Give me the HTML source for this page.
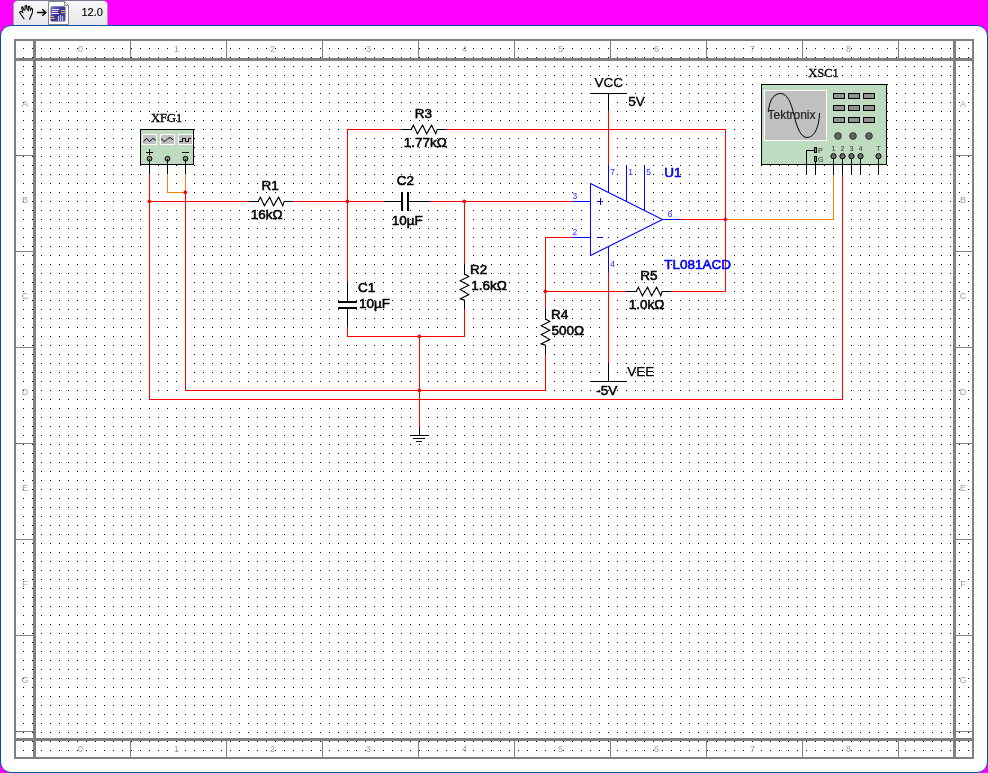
<!DOCTYPE html>
<html><head><meta charset="utf-8"><title>Multisim</title>
<style>
html,body{margin:0;padding:0;}
body{width:988px;height:773px;background:#ff00ff;position:relative;overflow:hidden;font-family:"Liberation Sans", sans-serif;}
#panel{position:absolute;left:0;top:25px;width:986px;height:746px;border:1px solid #00529e;border-radius:11px;background:#fff;}
#tab{position:absolute;left:13px;top:0;width:95px;height:25px;box-sizing:border-box;border:1px solid #9aa2a8;border-bottom:none;border-top-color:#6f7a90;border-radius:5px 5px 0 0;background:linear-gradient(#f7f7f8,#e6e7ea);}
svg{position:absolute;left:0;top:0;will-change:transform;}
</style></head><body>
<div id="panel"></div>
<div id="tab"></div>

<svg width="988" height="773" viewBox="0 0 988 773">
<defs><pattern id="dots" x="0" y="0" width="9" height="9" patternUnits="userSpaceOnUse"><rect x="5" y="3" width="1" height="1" fill="#000"/></pattern></defs>
<rect x="16" y="41" width="956" height="716" fill="url(#dots)" shape-rendering="crispEdges"/>
<g fill="#808080" shape-rendering="crispEdges">
<rect x="14" y="39" width="960" height="2"/>
<rect x="14" y="757" width="960" height="2"/>
<rect x="14" y="39" width="2" height="720"/>
<rect x="972" y="39" width="2" height="720"/>
<rect x="33" y="39" width="3" height="720"/>
<rect x="953" y="39" width="3" height="720"/>
<rect x="14" y="58" width="960" height="3"/>
<rect x="14" y="738" width="960" height="3"/>
<rect x="130" y="41" width="1" height="17"/>
<rect x="130" y="741" width="1" height="16"/>
<rect x="226" y="41" width="1" height="17"/>
<rect x="226" y="741" width="1" height="16"/>
<rect x="322" y="41" width="1" height="17"/>
<rect x="322" y="741" width="1" height="16"/>
<rect x="418" y="41" width="1" height="17"/>
<rect x="418" y="741" width="1" height="16"/>
<rect x="514" y="41" width="1" height="17"/>
<rect x="514" y="741" width="1" height="16"/>
<rect x="610" y="41" width="1" height="17"/>
<rect x="610" y="741" width="1" height="16"/>
<rect x="706" y="41" width="1" height="17"/>
<rect x="706" y="741" width="1" height="16"/>
<rect x="802" y="41" width="1" height="17"/>
<rect x="802" y="741" width="1" height="16"/>
<rect x="898" y="41" width="1" height="17"/>
<rect x="898" y="741" width="1" height="16"/>
<rect x="16" y="155" width="17" height="1"/>
<rect x="956" y="155" width="16" height="1"/>
<rect x="16" y="251" width="17" height="1"/>
<rect x="956" y="251" width="16" height="1"/>
<rect x="16" y="347" width="17" height="1"/>
<rect x="956" y="347" width="16" height="1"/>
<rect x="16" y="443" width="17" height="1"/>
<rect x="956" y="443" width="16" height="1"/>
<rect x="16" y="539" width="17" height="1"/>
<rect x="956" y="539" width="16" height="1"/>
<rect x="16" y="635" width="17" height="1"/>
<rect x="956" y="635" width="16" height="1"/>
<rect x="16" y="731" width="17" height="1"/>
<rect x="956" y="731" width="16" height="1"/>
</g>
<g fill="#a0a0a0" font-family='"Liberation Sans", sans-serif' font-size="9" text-anchor="middle">
<text x="80.5" y="52">0</text>
<text x="80.5" y="752">0</text>
<text x="176.5" y="52">1</text>
<text x="176.5" y="752">1</text>
<text x="272.5" y="52">2</text>
<text x="272.5" y="752">2</text>
<text x="368.5" y="52">3</text>
<text x="368.5" y="752">3</text>
<text x="464.5" y="52">4</text>
<text x="464.5" y="752">4</text>
<text x="560.5" y="52">5</text>
<text x="560.5" y="752">5</text>
<text x="656.5" y="52">6</text>
<text x="656.5" y="752">6</text>
<text x="752.5" y="52">7</text>
<text x="752.5" y="752">7</text>
<text x="848.5" y="52">8</text>
<text x="848.5" y="752">8</text>
<text x="25" y="107">A</text>
<text x="963" y="107">A</text>
<text x="25" y="203">B</text>
<text x="963" y="203">B</text>
<text x="25" y="299">C</text>
<text x="963" y="299">C</text>
<text x="25" y="395">D</text>
<text x="963" y="395">D</text>
<text x="25" y="491">E</text>
<text x="963" y="491">E</text>
<text x="25" y="587">F</text>
<text x="963" y="587">F</text>
<text x="25" y="683">G</text>
<text x="963" y="683">G</text>
</g>
<g shape-rendering="crispEdges">
<rect x="149" y="159" width="1" height="15" fill="#000000"/>
<rect x="149" y="174" width="1" height="226" fill="#ff0000"/>
<rect x="167" y="159" width="1" height="15" fill="#000000"/>
<rect x="167" y="174" width="1" height="19" fill="#ff8000"/>
<rect x="167" y="192" width="19" height="1" fill="#ff8000"/>
<rect x="185" y="159" width="1" height="15" fill="#000000"/>
<rect x="185" y="174" width="1" height="18" fill="#ff8000"/>
<rect x="185" y="192" width="1" height="199" fill="#ff0000"/>
<rect x="149" y="399" width="694" height="1" fill="#ff0000"/>
<rect x="842" y="174" width="1" height="226" fill="#ff0000"/>
<rect x="185" y="390" width="361" height="1" fill="#ff0000"/>
<rect x="149" y="201" width="100" height="1" fill="#ff0000"/>
<rect x="248" y="201" width="11" height="1" fill="#000000"/>
<rect x="284" y="201" width="10" height="1" fill="#000000"/>
<path d="M258.1,201.5 L260.4,197.2 L264.4,205.8 L269.6,197.2 L273.6,205.8 L278.6,197.2 L282.8,205.8 L284.1,201.5" fill="none" stroke="#000" stroke-width="1.1" shape-rendering="geometricPrecision"/>
<rect x="293" y="201" width="91" height="1" fill="#ff0000"/>
<rect x="384" y="201" width="17" height="1" fill="#000000"/>
<rect x="401" y="192" width="2" height="19" fill="#000"/>
<rect x="407" y="192" width="2" height="19" fill="#000"/>
<rect x="409" y="201" width="21" height="1" fill="#000000"/>
<rect x="430" y="201" width="143" height="1" fill="#ff0000"/>
<rect x="572" y="201" width="19" height="1" fill="#0000ff"/>
<rect x="347" y="129" width="1" height="154" fill="#ff0000"/>
<rect x="347" y="282" width="1" height="19" fill="#000000"/>
<rect x="338" y="301" width="19" height="2" fill="#000"/>
<rect x="338" y="307" width="19" height="2" fill="#000"/>
<rect x="347" y="309" width="1" height="19" fill="#000000"/>
<rect x="347" y="327" width="1" height="10" fill="#ff0000"/>
<rect x="347" y="336" width="118" height="1" fill="#ff0000"/>
<rect x="464" y="201" width="1" height="64" fill="#ff0000"/>
<rect x="464" y="264" width="1" height="11" fill="#000000"/>
<rect x="464" y="300" width="1" height="10" fill="#000000"/>
<path d="M464.5,274.1 L468.8,276.4 L460.2,280.7 L468.8,285.3 L460.2,289.6 L468.8,294.6 L460.2,298.8 L464.5,300.1" fill="none" stroke="#000" stroke-width="1.1" shape-rendering="geometricPrecision"/>
<rect x="464" y="309" width="1" height="28" fill="#ff0000"/>
<rect x="419" y="336" width="1" height="91" fill="#ff0000"/>
<rect x="419" y="427" width="1" height="9" fill="#000000"/>
<rect x="410" y="435" width="19" height="1" fill="#000000"/>
<rect x="413" y="438" width="12" height="1" fill="#000000"/>
<rect x="416" y="441" width="6" height="1" fill="#000000"/>
<rect x="347" y="129" width="55" height="1" fill="#ff0000"/>
<rect x="401" y="129" width="11" height="1" fill="#000000"/>
<rect x="437" y="129" width="10" height="1" fill="#000000"/>
<path d="M411.1,129.5 L413.4,125.2 L417.4,133.8 L422.6,125.2 L426.6,133.8 L431.6,125.2 L435.8,133.8 L437.1,129.5" fill="none" stroke="#000" stroke-width="1.1" shape-rendering="geometricPrecision"/>
<rect x="446" y="129" width="280" height="1" fill="#ff0000"/>
<rect x="725" y="129" width="1" height="163" fill="#ff0000"/>
<rect x="680" y="219" width="46" height="1" fill="#ff0000"/>
<rect x="725" y="219" width="109" height="1" fill="#ff8000"/>
<rect x="833" y="174" width="1" height="46" fill="#ff8000"/>
<rect x="662" y="219" width="19" height="1" fill="#0000ff"/>
<rect x="545" y="291" width="82" height="1" fill="#ff0000"/>
<rect x="626" y="291" width="11" height="1" fill="#000000"/>
<rect x="662" y="291" width="10" height="1" fill="#000000"/>
<path d="M636.1,291.5 L638.4,287.2 L642.4,295.8 L647.6,287.2 L651.6,295.8 L656.6,287.2 L660.8,295.8 L662.1,291.5" fill="none" stroke="#000" stroke-width="1.1" shape-rendering="geometricPrecision"/>
<rect x="671" y="291" width="55" height="1" fill="#ff0000"/>
<rect x="545" y="237" width="28" height="1" fill="#ff0000"/>
<rect x="572" y="237" width="19" height="1" fill="#0000ff"/>
<rect x="545" y="237" width="1" height="73" fill="#ff0000"/>
<rect x="545" y="309" width="1" height="11" fill="#000000"/>
<rect x="545" y="345" width="1" height="10" fill="#000000"/>
<path d="M545.5,319.1 L549.8,321.4 L541.2,325.7 L549.8,330.3 L541.2,334.6 L549.8,339.6 L541.2,343.8 L545.5,345.1" fill="none" stroke="#000" stroke-width="1.1" shape-rendering="geometricPrecision"/>
<rect x="545" y="354" width="1" height="37" fill="#ff0000"/>
<rect x="590" y="93" width="37" height="1" fill="#000000"/>
<rect x="608" y="93" width="1" height="18" fill="#000000"/>
<rect x="608" y="111" width="1" height="55" fill="#ff0000"/>
<rect x="608" y="165" width="1" height="27" fill="#0000ff"/>
<rect x="626" y="165" width="1" height="36" fill="#0000ff"/>
<rect x="644" y="165" width="1" height="45" fill="#0000ff"/>
<rect x="608" y="247" width="1" height="27" fill="#0000ff"/>
<rect x="608" y="273" width="1" height="91" fill="#ff0000"/>
<rect x="608" y="363" width="1" height="19" fill="#000000"/>
<rect x="590" y="381" width="37" height="1" fill="#000000"/>
<rect x="590" y="183" width="1" height="73" fill="#0000ff"/>
</g>
<path d="M590.5,183.5 L662.5,219.5 L590.5,255.5" fill="none" stroke="#0000ff" stroke-width="1.1"/>
<g fill="#0000ff" shape-rendering="crispEdges"><rect x="597" y="201" width="6" height="1"/><rect x="600" y="198" width="1" height="7"/><rect x="597" y="237" width="6" height="1"/></g>
<circle cx="149.3" cy="201.3" r="1.85" fill="#ff0000" shape-rendering="geometricPrecision"/>
<circle cx="185.3" cy="192.3" r="1.85" fill="#ff0000" shape-rendering="geometricPrecision"/>
<circle cx="347.3" cy="201.3" r="1.85" fill="#ff0000" shape-rendering="geometricPrecision"/>
<circle cx="464.3" cy="201.3" r="1.85" fill="#ff0000" shape-rendering="geometricPrecision"/>
<circle cx="419.3" cy="336.3" r="1.85" fill="#ff0000" shape-rendering="geometricPrecision"/>
<circle cx="419.3" cy="390.3" r="1.85" fill="#ff0000" shape-rendering="geometricPrecision"/>
<circle cx="545.3" cy="291.3" r="1.85" fill="#ff0000" shape-rendering="geometricPrecision"/>
<circle cx="725.3" cy="219.3" r="1.85" fill="#ff0000" shape-rendering="geometricPrecision"/>
<text x="270.1" y="190" font-family='"Liberation Sans", sans-serif' font-size="13.5" font-weight="normal" fill="#000" stroke="#000" stroke-width="0.55" text-anchor="middle" >R1</text>
<text x="266.7" y="218.6" font-family='"Liberation Sans", sans-serif' font-size="13.5" font-weight="normal" fill="#000" stroke="#000" stroke-width="0.55" text-anchor="middle" >16kΩ</text>
<text x="423.4" y="118" font-family='"Liberation Sans", sans-serif' font-size="13.5" font-weight="normal" fill="#000" stroke="#000" stroke-width="0.55" text-anchor="middle" >R3</text>
<text x="425.2" y="147" font-family='"Liberation Sans", sans-serif' font-size="13.5" font-weight="normal" fill="#000" stroke="#000" stroke-width="0.55" text-anchor="middle" >1.77kΩ</text>
<text x="405.5" y="185" font-family='"Liberation Sans", sans-serif' font-size="13.5" font-weight="normal" fill="#000" stroke="#000" stroke-width="0.55" text-anchor="middle" >C2</text>
<text x="407.2" y="225" font-family='"Liberation Sans", sans-serif' font-size="13.5" font-weight="normal" fill="#000" stroke="#000" stroke-width="0.55" text-anchor="middle" >10µF</text>
<text x="358" y="292" font-family='"Liberation Sans", sans-serif' font-size="13.5" font-weight="normal" fill="#000" stroke="#000" stroke-width="0.55" text-anchor="start" >C1</text>
<text x="359" y="308" font-family='"Liberation Sans", sans-serif' font-size="13.5" font-weight="normal" fill="#000" stroke="#000" stroke-width="0.55" text-anchor="start" >10µF</text>
<text x="470" y="273.5" font-family='"Liberation Sans", sans-serif' font-size="13.5" font-weight="normal" fill="#000" stroke="#000" stroke-width="0.55" text-anchor="start" >R2</text>
<text x="471.3" y="290" font-family='"Liberation Sans", sans-serif' font-size="13.5" font-weight="normal" fill="#000" stroke="#000" stroke-width="0.55" text-anchor="start" >1.6kΩ</text>
<text x="551" y="318.5" font-family='"Liberation Sans", sans-serif' font-size="13.5" font-weight="normal" fill="#000" stroke="#000" stroke-width="0.55" text-anchor="start" >R4</text>
<text x="551.5" y="335" font-family='"Liberation Sans", sans-serif' font-size="13.5" font-weight="normal" fill="#000" stroke="#000" stroke-width="0.55" text-anchor="start" >500Ω</text>
<text x="648.9" y="280" font-family='"Liberation Sans", sans-serif' font-size="13.5" font-weight="normal" fill="#000" stroke="#000" stroke-width="0.55" text-anchor="middle" >R5</text>
<text x="646.5" y="308.5" font-family='"Liberation Sans", sans-serif' font-size="13.5" font-weight="normal" fill="#000" stroke="#000" stroke-width="0.55" text-anchor="middle" >1.0kΩ</text>
<text x="594.5" y="86.5" font-family='"Liberation Sans", sans-serif' font-size="13.5" font-weight="normal" fill="#000" stroke="#000" stroke-width="0.25" text-anchor="start" >VCC</text>
<text x="628.3" y="105.8" font-family='"Liberation Sans", sans-serif' font-size="13.5" font-weight="normal" fill="#000" stroke="#000" stroke-width="0.35" text-anchor="start" >5V</text>
<text x="627.3" y="376" font-family='"Liberation Sans", sans-serif' font-size="13.5" font-weight="normal" fill="#000" stroke="#000" stroke-width="0.25" text-anchor="start" >VEE</text>
<text x="596.3" y="395" font-family='"Liberation Sans", sans-serif' font-size="13.5" font-weight="normal" fill="#000" stroke="#000" stroke-width="0.5" text-anchor="start" >-5V</text>
<text x="664.3" y="176.6" font-family='"Liberation Sans", sans-serif' font-size="13.5" font-weight="normal" fill="#0000ff" stroke="#0000ff" stroke-width="0.6" text-anchor="start" >U1</text>
<text x="664.2" y="268.6" font-family='"Liberation Sans", sans-serif' font-size="13.5" font-weight="normal" fill="#0000ff" stroke="#0000ff" stroke-width="0.6" text-anchor="start" >TL081ACD</text>
<text x="166.6" y="122" font-family='"Liberation Serif", serif' font-size="12.5" font-weight="normal" fill="#000" stroke="#000" stroke-width="0.3" text-anchor="middle" >XFG1</text>
<text x="823.5" y="77" font-family='"Liberation Serif", serif' font-size="12.5" font-weight="normal" fill="#000" stroke="#000" stroke-width="0.3" text-anchor="middle" >XSC1</text>
<text x="574.8" y="199" font-family='"Liberation Sans", sans-serif' font-size="8.5" font-weight="normal" fill="#2828ff"  text-anchor="middle" >3</text>
<text x="574.8" y="235" font-family='"Liberation Sans", sans-serif' font-size="8.5" font-weight="normal" fill="#2828ff"  text-anchor="middle" >2</text>
<text x="612.5" y="175" font-family='"Liberation Sans", sans-serif' font-size="8.5" font-weight="normal" fill="#2828ff"  text-anchor="middle" >7</text>
<text x="630.5" y="175" font-family='"Liberation Sans", sans-serif' font-size="8.5" font-weight="normal" fill="#2828ff"  text-anchor="middle" >1</text>
<text x="648.5" y="175" font-family='"Liberation Sans", sans-serif' font-size="8.5" font-weight="normal" fill="#2828ff"  text-anchor="middle" >5</text>
<text x="670" y="217" font-family='"Liberation Sans", sans-serif' font-size="8.5" font-weight="normal" fill="#2828ff"  text-anchor="middle" >6</text>
<text x="612.5" y="267" font-family='"Liberation Sans", sans-serif' font-size="8.5" font-weight="normal" fill="#2828ff"  text-anchor="middle" >4</text>
<g shape-rendering="crispEdges">
<rect x="140" y="129" width="54" height="36" fill="#000"/>
<rect x="141" y="130" width="52" height="34" fill="#c0dcc0"/>
<rect x="142" y="134" width="15" height="11" fill="#fff"/>
<rect x="143" y="135" width="13" height="9" fill="#c0c0c0"/>
<rect x="160" y="134" width="15" height="11" fill="#fff"/>
<rect x="161" y="135" width="13" height="9" fill="#c0c0c0"/>
<rect x="178" y="134" width="15" height="11" fill="#fff"/>
<rect x="179" y="135" width="13" height="9" fill="#c0c0c0"/>
<rect x="146" y="152" width="7" height="1.3" fill="#000"/><rect x="149" y="149" width="1.3" height="6" fill="#000"/>
<rect x="182" y="152" width="7" height="1.3" fill="#000"/>
</g>
<g fill="none" stroke="#000" stroke-width="1" shape-rendering="geometricPrecision">
<path d="M143.5,141.7 L146.6,138.3 L149.6,141.7 L152.8,138.3 L155.8,140.3"/>
<path d="M161.3,138.4 Q163.5,142.8 166,140.5 L168.2,138.3 Q170,136.2 173.2,140"/>
<path d="M179.3,141.6 H182.5 V138.4 H185.5 V141.6 H188.5 V138.4 H191"/>
</g>
<circle cx="149.5" cy="158.7" r="2.4" fill="#909090" stroke="#000" stroke-width="1"/>
<rect x="149" y="159" width="1" height="6" fill="#000000"/>
<circle cx="167.5" cy="158.7" r="2.4" fill="#909090" stroke="#000" stroke-width="1"/>
<rect x="167" y="159" width="1" height="6" fill="#000000"/>
<circle cx="185.5" cy="158.7" r="2.4" fill="#909090" stroke="#000" stroke-width="1"/>
<rect x="185" y="159" width="1" height="6" fill="#000000"/>
<g shape-rendering="crispEdges">
<rect x="761" y="84" width="126" height="81" fill="#000"/>
<rect x="762" y="85" width="124" height="79" fill="#c0dcc0"/>
<rect x="764" y="90" width="63" height="51" fill="#fff"/>
<rect x="765" y="91" width="61" height="49" fill="#c0c0c0"/>
<rect x="833" y="93" width="12" height="6" fill="#000"/>
<rect x="834" y="94" width="10" height="4" fill="#909090"/>
<rect x="848" y="93" width="12" height="6" fill="#000"/>
<rect x="849" y="94" width="10" height="4" fill="#909090"/>
<rect x="863" y="93" width="12" height="6" fill="#000"/>
<rect x="864" y="94" width="10" height="4" fill="#909090"/>
<rect x="833" y="105" width="12" height="6" fill="#000"/>
<rect x="834" y="106" width="10" height="4" fill="#909090"/>
<rect x="848" y="105" width="12" height="6" fill="#000"/>
<rect x="849" y="106" width="10" height="4" fill="#909090"/>
<rect x="863" y="105" width="12" height="6" fill="#000"/>
<rect x="864" y="106" width="10" height="4" fill="#909090"/>
<rect x="833" y="117" width="12" height="6" fill="#000"/>
<rect x="834" y="118" width="10" height="4" fill="#909090"/>
<rect x="848" y="117" width="12" height="6" fill="#000"/>
<rect x="849" y="118" width="10" height="4" fill="#909090"/>
<rect x="863" y="117" width="12" height="6" fill="#000"/>
<rect x="864" y="118" width="10" height="4" fill="#909090"/>
<rect x="814" y="147" width="3" height="6" fill="#000"/><rect x="815" y="148" width="1" height="4" fill="#808080"/>
<rect x="814" y="156" width="3" height="6" fill="#000"/><rect x="815" y="157" width="1" height="4" fill="#808080"/>
<rect x="806" y="150" width="8" height="1" fill="#000"/>
<rect x="806" y="150" width="1" height="25" fill="#000000"/>
<rect x="815" y="162" width="1" height="13" fill="#000000"/>
<rect x="833" y="156" width="1" height="19" fill="#000000"/>
<rect x="842" y="156" width="1" height="19" fill="#000000"/>
<rect x="851" y="156" width="1" height="19" fill="#000000"/>
<rect x="860" y="156" width="1" height="19" fill="#000000"/>
<rect x="878" y="156" width="1" height="19" fill="#000000"/>
</g>
<circle cx="838" cy="136" r="3.4" fill="#606060" stroke="#303030" stroke-width="0.8"/>
<circle cx="853" cy="136" r="3.4" fill="#606060" stroke="#303030" stroke-width="0.8"/>
<circle cx="869" cy="136" r="3.4" fill="#606060" stroke="#303030" stroke-width="0.8"/>
<circle cx="833.5" cy="156.2" r="2.6" fill="#707070" stroke="#000" stroke-width="1"/>
<circle cx="842.5" cy="156.2" r="2.6" fill="#707070" stroke="#000" stroke-width="1"/>
<circle cx="851.5" cy="156.2" r="2.6" fill="#707070" stroke="#000" stroke-width="1"/>
<circle cx="860.5" cy="156.2" r="2.6" fill="#707070" stroke="#000" stroke-width="1"/>
<circle cx="878.5" cy="156.2" r="2.6" fill="#707070" stroke="#000" stroke-width="1"/>
<path d="M768.5,112 C769,100 774,93.5 780.5,93.5 C787,93.5 791,102 794,115 C797,128 801,137.5 807,137.5 C814,137.5 819,128 819.5,113" fill="none" stroke="#000" stroke-width="1"/>
<text x="767.5" y="119" font-family='"Liberation Sans", sans-serif' font-size="12" font-weight="normal" fill="#222222" stroke="#222222" stroke-width="0.2" text-anchor="start" >Tektronix</text>
<text x="833.5" y="151.3" font-family='"Liberation Sans", sans-serif' font-size="6.5" font-weight="normal" fill="#404040" stroke="#404040" stroke-width="0.1" text-anchor="middle" >1</text>
<text x="842.5" y="151.3" font-family='"Liberation Sans", sans-serif' font-size="6.5" font-weight="normal" fill="#404040" stroke="#404040" stroke-width="0.1" text-anchor="middle" >2</text>
<text x="851.5" y="151.3" font-family='"Liberation Sans", sans-serif' font-size="6.5" font-weight="normal" fill="#404040" stroke="#404040" stroke-width="0.1" text-anchor="middle" >3</text>
<text x="860.5" y="151.3" font-family='"Liberation Sans", sans-serif' font-size="6.5" font-weight="normal" fill="#404040" stroke="#404040" stroke-width="0.1" text-anchor="middle" >4</text>
<text x="878.5" y="151.3" font-family='"Liberation Sans", sans-serif' font-size="6.5" font-weight="normal" fill="#404040" stroke="#404040" stroke-width="0.1" text-anchor="middle" >T</text>
<text x="818" y="152.8" font-family='"Liberation Sans", sans-serif' font-size="7" font-weight="normal" fill="#404040" stroke="#404040" stroke-width="0.1" text-anchor="start" >P</text>
<text x="818" y="161.8" font-family='"Liberation Sans", sans-serif' font-size="7" font-weight="normal" fill="#404040" stroke="#404040" stroke-width="0.1" text-anchor="start" >G</text>
<g fill="none" stroke="#000" stroke-width="1.1" stroke-linecap="round" stroke-linejoin="round" shape-rendering="geometricPrecision">
<path d="M24,18.8 L19.6,12.4 L21,11.2 L23,12.6"/>
<path d="M22.6,11.2 L21.6,7.6 L22.6,6.6 L24.2,10.6"/>
<path d="M25,9.8 L25.2,5.8 L26.4,5.4 L27.2,10"/>
<path d="M28.4,10.8 L28.2,6.6 L29.4,6.4 L30.6,10.4"/>
<path d="M30.6,9.4 L31.6,8.2 L32.6,9.4 L32.4,12.6 L29.6,19.2"/>
</g>
<path d="M37,12.5 H45.5 M42.3,9.3 L45.8,12.5 L42.3,15.7" fill="none" stroke="#000" stroke-width="1.4" shape-rendering="geometricPrecision"/>
<path d="M48.5,1.5 H64.5 L68.5,5.5 V24.5 H48.5 Z" fill="#fff" stroke="#8a8a8a" stroke-width="1"/>
<path d="M64.5,1.5 V5.5 H68.5" fill="none" stroke="#8a8a8a" stroke-width="1"/>
<defs><linearGradient id="pg" x1="0" y1="0" x2="1" y2="1"><stop offset="0" stop-color="#7a70c0"/><stop offset="0.5" stop-color="#3c3494"/><stop offset="1" stop-color="#5a52a8"/></linearGradient></defs>
<rect x="50.5" y="6.2" width="15" height="15.3" rx="1.5" fill="url(#pg)"/>
<g stroke-width="1" shape-rendering="crispEdges">
<path d="M52,9.5 H59 M52,11.5 H58 M51,13.5 H59" stroke="#e0e0f4"/>
<path d="M61,10.5 H65 M61,12.5 H65 M51,16.5 H54 M51,18.5 H55" stroke="#e8b050"/>
<path d="M58.5,16 V21 M60.5,15 V21 M62.5,16 V21" stroke="#c8c8ec"/>
</g>
<text x="81.5" y="16" font-family='"Liberation Sans", sans-serif' font-size="11" font-weight="normal" fill="#000" stroke="#000" stroke-width="0.15" text-anchor="start" >12.0</text>
</svg>
</body></html>
